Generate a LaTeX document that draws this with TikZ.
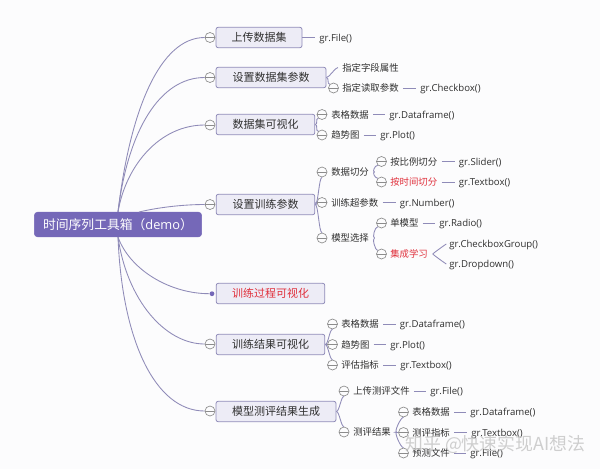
\documentclass[tikz,border=0pt]{standalone}
\usepackage{fontspec}
\setmainfont{Noto Sans CJK SC}
\newfontfamily\latinf{Open Sans}
\definecolor{bgc}{HTML}{FCFCFD}
\definecolor{rootc}{HTML}{7568B8}
\definecolor{boxc}{HTML}{EDECF6}
\definecolor{linec}{HTML}{8F8BB8}
\definecolor{circc}{HTML}{8C8C8C}
\definecolor{redc}{HTML}{E0303C}
\definecolor{txtc}{HTML}{303030}
\tikzset{
  rootbox/.style={draw=rootc,fill=rootc,rounded corners=2.5pt,text=white,font=\fontsize{9.6pt}{12pt}\selectfont,minimum width=125.5pt,minimum height=18.5pt,inner sep=0pt,text height=9pt,text depth=1.7pt},
  lone/.style={draw=linec,fill=boxc,rounded corners=1.6pt,text=txtc,line width=.6pt,font=\fontsize{8.25pt}{10pt}\selectfont,minimum height=15.3pt,inner sep=0pt,text height=7.76pt,text depth=1.5pt},
  txt/.style={anchor=west,inner sep=0pt,text=txtc,text height=6.8pt,text depth=1.5pt,font=\fontsize{7.05pt}{9pt}\selectfont},
  code/.style={anchor=west,inner sep=0pt,text=txtc,text height=6.8pt,text depth=1.5pt,font=\latinf\fontsize{7.2pt}{9pt}\selectfont},
  redt/.style={text=redc},
  col/.style={circle,draw=circc,fill=bgc,line width=.5pt,minimum size=7.5pt,inner sep=0pt,
    path picture={\draw[circc,line width=.5pt] (path picture bounding box.west) -- (path picture bounding box.east);}},
  dotn/.style={circle,fill=rootc,minimum size=3.6pt,inner sep=0pt},
  conn/.style={draw=linec,line width=.65pt},
  dashl/.style={draw=linec,line width=.65pt,shorten <=3pt,shorten >=3pt},
  fromtxt/.style={shorten <=4pt}
}
\newcommand{\brn}[3][]{\draw[conn,#1] (#2) .. controls +(3,0) and +(-3,0) .. (#3);}
\newcommand{\dsh}[2]{\draw[dashl] (#1.east) -- (#2.west);}
\begin{document}
\begin{tikzpicture}[x=.75pt,y=-.75pt]
\useasboundingbox (0,0) rectangle (600,469);
\fill[bgc] (0,0) rectangle (600,469);
% root and first level
\node[rootbox] (root) at (118,224.5) {时间序列工具箱（{\latinf demo}）};
\node[lone,minimum width=64.5pt] (a1) at (259,37.5) {上传数据集};
\node[lone,minimum width=82.5pt] (a2) at (271,77.5) {设置数据集参数};
\node[lone,minimum width=74pt] (a3) at (265.5,124.5) {数据集可视化};
\node[lone,minimum width=74pt] (a4) at (265.5,204.5) {设置训练参数};
\node[lone,minimum width=81.5pt] (a5) at (270.5,293.5) {\textcolor{redc}{训练过程可视化}};
\node[lone,minimum width=81.5pt] (a6) at (270.5,344.5) {训练结果可视化};
\node[lone,minimum width=90pt] (a7) at (276,411.5) {模型测评结果生成};
\node[col] (c1) at (210,37.5) {};
\node[col] (c2) at (210,77.5) {};
\node[col] (c3) at (210,125) {};
\node[col] (c4) at (210,204.5) {};
\node[dotn] (c5) at (212,293.7) {};
\node[col] (c6) at (210,344) {};
\node[col] (c7) at (210,411) {};
\draw[conn] (root.north) .. controls (130,110) and (160,37.5) .. (c1.west);
\draw[conn] (root.north) .. controls (128,130) and (160,77.5) .. (c2.west);
\draw[conn] (root.north) .. controls (126,165) and (160,125) .. (c3.west);
\draw[conn] (139,212) .. controls (160,207) and (185,204.5) .. (c4.west);
\draw[conn] (root.south) .. controls (130,270) and (170,293.7) .. (c5.west);
\draw[conn] (root.south) .. controls (127,300) and (165,344) .. (c6.west);
\draw[conn] (root.south) .. controls (122,340) and (155,411) .. (c7.west);
% upload
\node[code] (b1) at (319,37.5) {gr.File()};
\draw[conn] (a1.east) -- (315,37.5);
% dataset params
\node[txt] (t21) at (342,67.5) {指定字段属性};
\node[col] (c22) at (333.5,88) {};
\node[txt] (t22) at (342,88) {指定读取参数};
\node[code] (b22) at (420,88) {gr.Checkbox()};
\brn{a2.east}{338,67.5}
\brn{a2.east}{c22.north west}
\dsh{t22}{b22}
% visualise
\node[col] (c31) at (322,114.5) {};
\node[txt] (t31) at (331,114.5) {表格数据};
\node[code] (b31) at (389,114.5) {gr.Dataframe()};
\node[col] (c32) at (322,135) {};
\node[txt] (t32) at (331,135) {趋势图};
\node[code] (b32) at (380,135) {gr.Plot()};
\brn{a3.east}{c31.south west}
\brn{a3.east}{c32.north west}
\dsh{t31}{b31}
\dsh{t32}{b32}
% training params
\node[col] (c41) at (322,172) {};
\node[txt] (t41) at (331,172) {数据切分};
\node[col] (c42) at (322,202.5) {};
\node[txt] (t42) at (331,202.5) {训练超参数};
\node[code] (b42) at (399.5,202.5) {gr.Number()};
\node[col] (c43) at (322,238) {};
\node[txt] (t43) at (331,238) {模型选择};
\brn{a4.east}{c41.south}
\brn{a4.east}{c42.west}
\brn{a4.east}{c43.north}
\dsh{t42}{b42}
\node[col] (c411) at (381.5,161.5) {};
\node[txt] (t411) at (390,161.5) {按比例切分};
\node[code] (b411) at (458.5,161.5) {gr.Slider()};
\node[col] (c412) at (381.5,182) {};
\node[txt,redt] (t412) at (390,182) {按时间切分};
\node[code] (b412) at (458.5,182) {gr.Textbox()};
\brn[fromtxt]{t41.east}{c411.south west}
\brn[fromtxt]{t41.east}{c412.north west}
\dsh{t411}{b411}
\dsh{t412}{b412}
\node[col] (c431) at (381.5,223) {};
\node[txt] (t431) at (390,223) {单模型};
\node[code] (b431) at (439,223) {gr.Radio()};
\node[col] (c432) at (381.5,254) {};
\node[txt,redt] (t432) at (390,254) {集成学习};
\node[code] (b433) at (449,244) {gr.CheckboxGroup()};
\node[code] (b434) at (449,264) {gr.Dropdown()};
\brn[fromtxt]{t43.east}{c431.south west}
\brn[fromtxt]{t43.east}{c432.north west}
\dsh{t431}{b431}
\draw[conn,shorten <=3.5pt,shorten >=2pt] (t432.east) .. controls +(4,0) and +(-3,0) .. (b433.west);
\draw[conn,shorten <=3.5pt,shorten >=2pt] (t432.east) .. controls +(4,0) and +(-3,0) .. (b434.west);
% results
\node[col] (c61) at (332.5,324) {};
\node[txt] (t61) at (341,324) {表格数据};
\node[code] (b61) at (399.5,324) {gr.Dataframe()};
\node[col] (c62) at (332.5,344.5) {};
\node[txt] (t62) at (341,344.5) {趋势图};
\node[code] (b62) at (390,344.5) {gr.Plot()};
\node[col] (c63) at (332.5,365) {};
\node[txt] (t63) at (341,365) {评估指标};
\node[code] (b63) at (400,365) {gr.Textbox()};
\brn{a6.east}{c61.south}
\brn{a6.east}{c62.west}
\brn{a6.east}{c63.north}
\dsh{t61}{b61}
\dsh{t62}{b62}
\dsh{t63}{b63}
% evaluation
\node[col] (c71) at (344,391) {};
\node[txt] (t71) at (353,391) {上传测评文件};
\node[code] (b71) at (430,391) {gr.File()};
\node[col] (c72) at (344,432) {};
\node[txt] (t72) at (353,432) {测评结果};
\brn{a7.east}{c71.south}
\brn{a7.east}{c72.north}
\dsh{t71}{b71}
\node[col] (c721) at (403.5,412) {};
\node[txt] (t721) at (412,412) {表格数据};
\node[code] (b721) at (470,412) {gr.Dataframe()};
\node[col] (c722) at (403.5,432.5) {};
\node[txt] (t722) at (412,432.5) {测评指标};
\node[code] (b722) at (471,432.5) {gr.Textbox()};
\node[col] (c723) at (403.5,453) {};
\node[txt] (t723) at (412,453) {预测文件};
\node[code] (b723) at (470,453) {gr.File()};
\brn[fromtxt]{t72.east}{c721.south}
\brn[fromtxt]{t72.east}{c722.west}
\brn[fromtxt]{t72.east}{c723.north}
\dsh{t721}{b721}
\dsh{t722}{b722}
\dsh{t723}{b723}
% watermark
\node[anchor=west,inner sep=0pt,text=gray!45,opacity=.85,font=\fontsize{13.4pt}{15pt}\selectfont] (wm) at (405,444) {知乎 @快速实现AI想法};
\end{tikzpicture}
\end{document}
